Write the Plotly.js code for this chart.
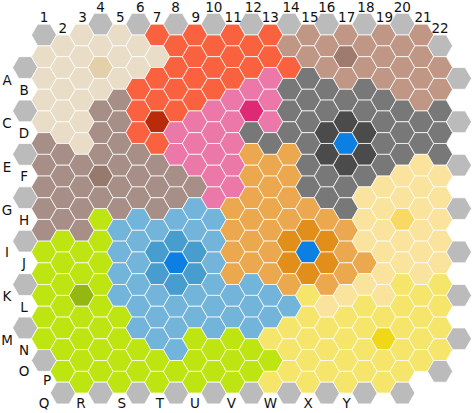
<!DOCTYPE html>
<html>
<head>
<meta charset="utf-8">
<script src="https://cdn.plot.ly/plotly-3.0.1.min.js"></script>
<style>html,body{margin:0;padding:0;background:#fff}#c{width:474px;height:413px}</style>
</head>
<body>
<div id="c"></div>
<script>
// Region code per hex, one string per map column, read top to bottom (a "." is an empty hex).
const columnCells = [
  "n.n.n.n.n.n.n",
  "neeeetttttgggggn",
  "eeeeettttgggggggn",
  "eeeeeettttggGgggg",
  "neEetttTtggggggggn",
  "eeettttttbbbbgggg",
  "neerrrtttbbbbbbggn",
  "rerrRrtttbBBbbbgg",
  "nrrrrppttbB*Bbbbgn",
  "rrrrppptbbBBbbggg",
  "nrrrpppppbbbbbbggn",
  "rrrpppppaaaabbggg",
  "nrrpPkaaaaaabbbggn",
  "rrpppkaaaaaabbygy",
  "norkkkaaaaAAabyyyn",
  "ookkkkkkaA*Ayyyyy",
  "nookkKKkkaAAalyyyn",
  "oOokK*Kkkaaalyyyy",
  "nookkKKklllalyyyyn",
  "oookkkkllllllyYyy",
  "noookkkllLllyyyyyn",
  "ooookkllllllyyyy",
  "nookkklllllyyyyn",
  "n.n.n.n.n.n.n"
];
// First half-row occupied by each column.
const columnStart = [3,0,1,0,-1,0,-1,0,-1,0,-1,0,-1,0,-1,0,-1,0,-1,0,-1,0,1,4];

const regionCodes = ["n","e","E","r","R","o","O","t","T","k","K","p","P","a","A","l","L","y","Y","g","G","b","B","*"];
const regionColors = ["#BBBBBB","#E9DDC7","#E3CFA9","#F9613F","#B82B0B","#C09685","#9E7B6D","#A78F88","#967A6E","#787878","#4B4B4B","#EC78A9","#DE2A74","#EBA84F","#E28E1A","#FAE39C","#F8D963","#F5E56B","#F0D818","#BEE412","#95B712","#72B4DA","#479ECE","#0C80E2"];

const columnLabels = ["1","2","3","4","5","6","7","8","9","10","11","12","13","14","15","16","17","18","19","20","21","22"];
const columnLabelX = [1,2,3.05,4,5.05,6.1,7,7.97,9.05,10,11.03,12.1,13,14.1,15.1,16,17.05,18.07,19.05,20,21.1,22];
const columnLabelH = [-1.53,-0.53,-1.53,-2.47,-1.53,-2.47,-1.53,-2.47,-1.53,-2.47,-1.53,-2.47,-1.53,-2.47,-1.53,-2.47,-1.53,-2.47,-1.53,-2.47,-1.53,-0.53];
const rowLabels = ["A","B","C","D","E","F","G","H","I","J","K","L","M","N","O","P","Q","R","S","T","U","V","W","X","Y"];
const rowLabelX = [-0.96,-0.06,-0.96,-0.06,-0.96,-0.06,-0.96,-0.06,-0.96,-0.06,-0.96,-0.06,-0.96,-0.06,-0.06,1.16,1,2.96,5.13,7.15,9,10.93,13,15,17.05];
const rowLabelH = [4.28,5.18,8.28,9.18,12.28,13.18,16.28,17.18,20.18,21.18,24.18,25.18,28.28,29.18,31.13,31.98,34.08,34.08,34.08,34.08,34.08,34.08,34.08,34.08,34.08];

const xs = [], ys = [], fills = [];
columnCells.forEach((cells, col) => {
  [...cells].forEach((code, i) => {
    if (code === ".") return;
    xs.push(col);
    ys.push(columnStart[col] + i * 2);
    fills.push(regionColors[regionCodes.indexOf(code)]);
  });
});

const textFont = {family: "DejaVu Sans", size: 13.5, color: "#111111"};
const traces = [
  {type: "scatter", mode: "markers", x: xs, y: ys, hoverinfo: "skip",
   marker: {symbol: "hexagon2", size: 25.1, color: fills, line: {color: "rgba(255,255,255,0.85)", width: 0.9}}},
  {type: "scatter", mode: "text", x: columnLabelX, y: columnLabelH, text: columnLabels,
   textposition: "middle center", textfont: textFont, hoverinfo: "skip"},
  {type: "scatter", mode: "text", x: rowLabelX, y: rowLabelH, text: rowLabels,
   textposition: "middle center", textfont: textFont, hoverinfo: "skip"}
];
const layout = {
  width: 474, height: 413, showlegend: false,
  margin: {l: 0, r: 0, t: 0, b: 0},
  paper_bgcolor: "#ffffff", plot_bgcolor: "#ffffff",
  xaxis: {range: [-1.333, 23.8], visible: false, fixedrange: true},
  yaxis: {range: [34.84, -3.226], visible: false, fixedrange: true}
};
Plotly.newPlot("c", traces, layout, {displayModeBar: false, staticPlot: true});
</script>
</body>
</html>
